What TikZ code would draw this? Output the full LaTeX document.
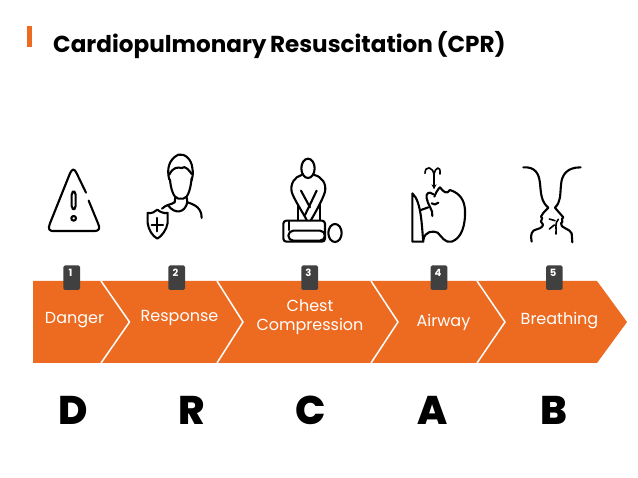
\documentclass[tikz,border=0pt]{standalone}
\usepackage{fontspec}
\usetikzlibrary{arrows.meta}
\setmainfont{Poppins}
\newfontfamily\heavyfont{Poppins ExtraBold}
\definecolor{bandorange}{HTML}{ED6B21}
\definecolor{badgegrey}{HTML}{404040}
\tikzset{
  icon/.style={draw=black,line width=2.1pt,line cap=round,line join=round,fill=none},
  thinicon/.style={icon,line width=1.6pt},
  sep/.style={draw=white,line width=1.5pt},
  badge/.style={fill=badgegrey,rounded corners=1.5pt},
  badgenum/.style={text=white,font=\fontsize{10}{10}\selectfont\bfseries,inner sep=0pt,anchor=center},
  steplabel/.style={text=white,font=\fontsize{16}{19}\selectfont,inner sep=0pt,anchor=center,align=center},
  bigletter/.style={text=black,font=\fontsize{40}{40}\selectfont\heavyfont,inner sep=0pt,anchor=center},
}
\begin{document}
\begin{tikzpicture}[x=1pt,y=-1pt]
\useasboundingbox (0,0) rectangle (638,478);
\fill[white] (0,0) rectangle (638,478);
% title
\fill[bandorange] (26.7,25.7) rectangle (31.7,47);
\node[inner sep=0pt,anchor=west,text=black,font=\fontsize{23.1}{24}\selectfont\bfseries] (title) at (53,45) {\spaceskip=3.5pt Cardiopulmonary Resuscitation (CPR)};
% band
\fill[bandorange] (33,281) -- (597,281) -- (627,322) -- (597,363) -- (33,363) -- cycle;
\draw[sep] (101,281) -- (129.5,322) -- (101,363);
\draw[sep] (217,281) -- (243,322) -- (217,363);
\draw[sep] (371,281) -- (398,322) -- (371,363);
\draw[sep] (477,281) -- (505,322) -- (477,363);
% badges
\foreach \n/\a in {1/63.3,2/168.3,3/301.3,4/430.7,5/546}{
  \fill[badge] (\a,265.5) rectangle ++(16.7,24.5);
  \node[badgenum] (b\n) at (\a+7.2,272.5) {\n};
}
% labels
\node[steplabel] (danger) at (74.5,320) {Danger};
\node[steplabel] (response) at (179.5,318) {Response};
\node[steplabel] (chest) at (310,317) {Chest\\Compression};
\node[steplabel] (airway) at (443.5,322.5) {Airway};
\node[steplabel] (breathing) at (559.5,320.5) {Breathing};
% letters
\node[bigletter] (D) at (73,410) {D};
\node[bigletter] (R) at (192,410) {R};
\node[bigletter] (C) at (310.5,410) {C};
\node[bigletter] (A) at (432.5,410) {A};
\node[bigletter] (B) at (553.5,410) {B};
% danger icon
\begin{scope}[shift={(20,140)},x=0.3333pt,y=-0.3333pt]
\draw[icon] (198,158) -- (170,100) .. controls (163,85) and (157,85) .. (150,100)
  -- (90,250) .. controls (82,268) and (90,273) .. (98,273)
  -- (225,273) .. controls (236,273) and (242,266) .. (234,250) -- (206,182);
\draw[icon,rounded corners=3pt] (155,155) rectangle (167,207);
\draw[icon] (161,235) circle[radius=7];
\end{scope}
% person icon
\begin{scope}[shift={(140,148)},x=0.3333pt,y=-0.3333pt]
\draw[icon] (88,95) .. controls (80,65) and (85,35) .. (115,20) .. controls (135,15) and (155,35) .. (157,60) .. controls (160,75) and (158,85) .. (155,97);
\draw[icon] (88,80) .. controls (100,55) and (115,58) .. (125,60) .. controls (135,50) and (150,70) .. (155,78);
\draw[icon] (90,95) .. controls (92,120) and (100,150) .. (115,152) -- (130,152) .. controls (145,150) and (152,120) .. (155,90);
\draw[icon] (106,148) -- (104,163) .. controls (95,170) and (80,168) .. (66,182);
\draw[icon] (140,148) -- (142,163) .. controls (165,170) and (185,180) .. (185,210);
\draw[icon] (84,172) .. controls (105,200) and (135,195) .. (142,163);
\draw[icon] (23,195) .. controls (35,197) and (45,192) .. (52,185) .. controls (60,192) and (72,197) .. (83,195) -- (83,225) .. controls (80,245) and (65,265) .. (52,272) .. controls (38,265) and (25,245) .. (23,225) -- cycle;
\draw[icon] (52,210) -- (52,250) (35,230) -- (69,230);
\end{scope}
% CPR icon
\begin{scope}[shift={(275,150)},x=0.3333pt,y=-0.3333pt]
\draw[icon] (99,55) ellipse[x radius=20,y radius=29];
\draw[icon] (80,75) .. controls (60,80) and (45,100) .. (50,125) .. controls (55,145) and (85,190) .. (95,210);
\draw[icon] (118,75) .. controls (140,80) and (155,100) .. (150,125) .. controls (145,145) and (120,190) .. (108,210);
\draw[icon] (78,122) -- (105,172);
\draw[icon] (125,122) -- (90,195);
\draw[icon] (68,165) -- (68,210);
\draw[icon] (135,165) -- (135,210);
\draw[icon,rounded corners=3pt] (25,212) rectangle (150,275);
\draw[icon] (42,215) -- (42,240);
\draw[icon,rounded corners=5pt] (40,242) rectangle (150,272);
\draw[icon] (180,249) ellipse[x radius=20,y radius=27];
\end{scope}
% airway icon
\begin{scope}[shift={(405,160)},x=0.3333pt,y=-0.3333pt]
\draw[icon] (22,100) -- (22,245) -- (55,245) .. controls (50,200) and (50,125) .. (22,100);
\draw[icon] (55,240) .. controls (60,212) and (85,212) .. (98,218) .. controls (110,230) and (120,250) .. (140,245) .. controls (170,235) and (182,195) .. (180,150) .. controls (178,120) and (165,100) .. (135,90) .. controls (125,105) and (115,95) .. (105,82) .. controls (98,88) and (92,100) .. (88,110);
\draw[icon] (85,103) .. controls (72,92) and (62,100) .. (65,115) .. controls (68,135) and (85,150) .. (82,168);
\draw[icon] (48,150) -- (70,142);
\draw[icon] (80,130) .. controls (85,135) and (95,135) .. (100,128);
\draw[thinicon,-{Stealth[length=5pt,width=5pt]}] (87,35) -- (87,88);
\draw[thinicon] (87,45) .. controls (85,20) and (60,15) .. (60,40);
\draw[thinicon] (87,45) .. controls (90,20) and (108,15) .. (105,42);
\end{scope}
% breathing icon
\begin{scope}[shift={(515,160)},x=0.3333pt,y=-0.3333pt]
\draw[icon] (25,22) .. controls (60,20) and (72,40) .. (75,70) .. controls (78,100) and (78,125) .. (100,143) .. controls (95,150) and (85,155) .. (78,170) .. controls (88,175) and (72,185) .. (80,188) .. controls (90,195) and (80,205) .. (65,208) .. controls (50,210) and (45,225) .. (50,245);
\draw[icon] (197,22) .. controls (155,22) and (140,45) .. (138,75) .. controls (135,105) and (138,125) .. (120,143) .. controls (125,150) and (135,160) .. (145,172) .. controls (135,178) and (148,185) .. (138,190) .. controls (135,205) and (165,205) .. (170,220) -- (172,247);
\draw[thinicon] (103,177) -- (120,182);
\draw[thinicon] (130,178) .. controls (118,190) and (125,205) .. (123,222);
\draw[thinicon] (103,207) -- (118,195);
\end{scope}
\end{tikzpicture}
\end{document}
